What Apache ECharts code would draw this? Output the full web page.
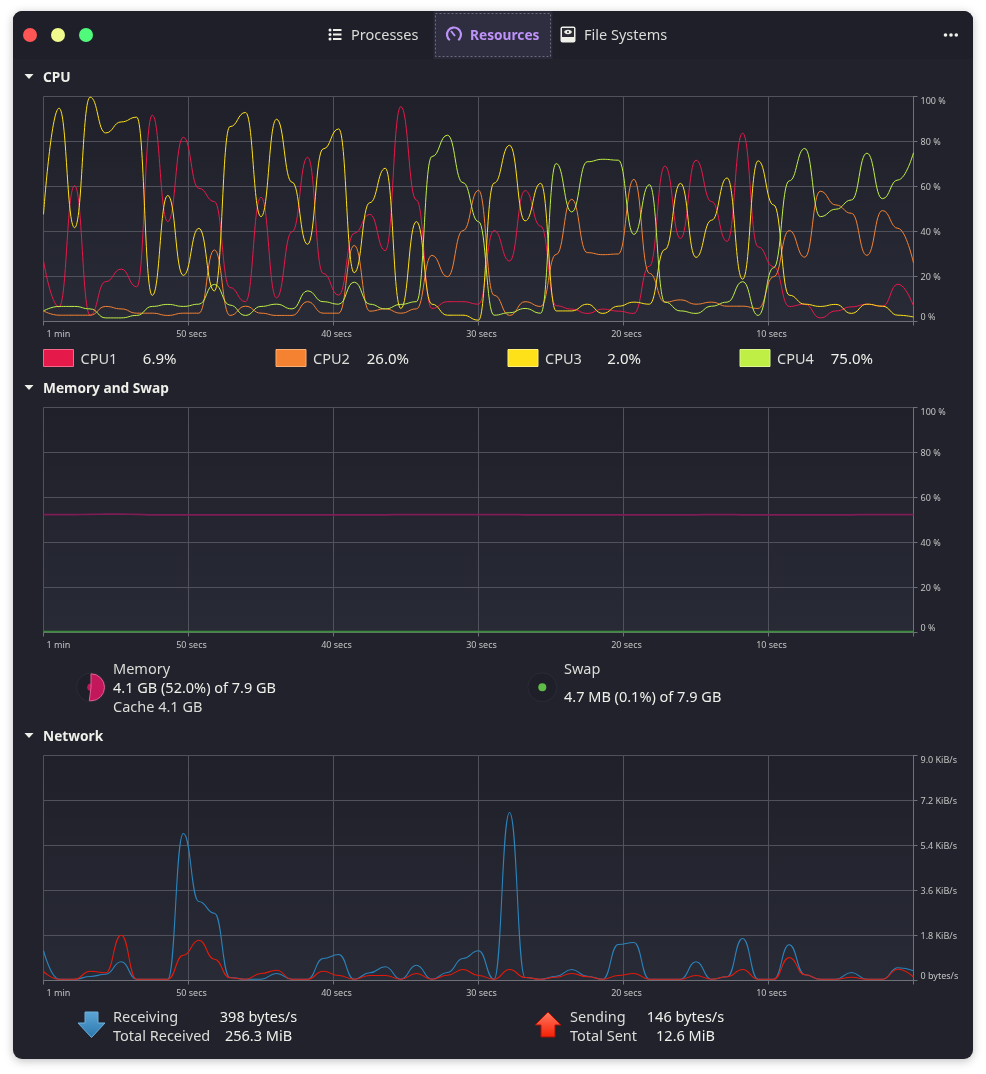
<!DOCTYPE html>
<html>
<head>
<meta charset="utf-8">
<title>System Monitor</title>
<script src="https://cdn.jsdelivr.net/npm/echarts@6/dist/echarts.min.js"></script>
<style>
  html, body { margin: 0; padding: 0; background: #fff; }
  #window { position: absolute; left: 13px; top: 11px; width: 960px; height: 1048px; background: #21222c;
    border-radius: 9px; box-shadow: 0 2px 10px rgba(0,0,0,0.25); overflow: hidden; }
  #header { height: 48px; background: #1e1f29; }
  #diagram { position: absolute; left: 0; top: 0; width: 986px; height: 1074px; }
</style>
</head>
<body>
<div id="window"><div id="header"></div></div>
<div id="diagram"></div>
<script>
var xTickLabels = ["1 min", "50 secs", "40 secs", "30 secs", "20 secs", "10 secs", ""];
var percentLabels = ["0 %", "20 %", "40 %", "60 %", "80 %", "100 %"];
var netLabels = ["0 bytes/s", "1.8 KiB/s", "3.6 KiB/s", "5.4 KiB/s", "7.2 KiB/s", "9.0 KiB/s"];

var cpuNames = ["CPU1", "CPU2", "CPU3", "CPU4"];
var cpuNow = ["6.9%", "26.0%", "2.0%", "75.0%"];
var cpuColors = ["#e6194b", "#f58231", "#ffe119", "#bfef45"];
var cpuBorders = ["#f4668a", "#fbae76", "#fff07a", "#dcf78e"];

var cpu1 = [27, 6.5, 60.4, 2.8, 17.7, 23.3, 15.4, 91.7, 44.4, 81.9, 59.2, 53.3, 15.1, 8.8, 55.2, 10.5, 39.9, 73, 21.4, 11.7,
  39.2, 47.6, 31.5, 95.5, 54, 5.8, 8.8, 8.8, 7.7, 40.4, 26.9, 58.2, 42.4, 7, 5.5, 3.6, 5.5, 4.6, 3.6, 24.6,
  69.1, 36.9, 71.7, 53.3, 35.6, 83.7, 33.2, 24.3, 6.7, 7.7, 1.6, 4.7, 6.5, 7.7, 6.8, 16.6, 6.9];
var cpu2 = [4.7, 2.8, 2.8, 2.8, 6.7, 5.6, 3.7, 3.7, 2.7, 3.7, 3.7, 31.8, 2.7, 6.8, 3.7, 2.7, 2.7, 8.8, 3.7, 3.7,
  33.8, 4.6, 5.6, 3.7, 5.6, 29.4, 19.9, 40.4, 58.3, 11.7, 2.7, 8.8, 6.7, 29.8, 54.3, 30.6, 29.7, 30, 63.2, 21.4,
  8.6, 9.6, 7.7, 8.6, 6.8, 6.8, 5.8, 19.9, 40.4, 28.6, 57.9, 51.8, 48.1, 29.4, 49.3, 41.4, 26];
var cpu3 = [47.6, 94.8, 41.7, 99.7, 83.8, 88.7, 90.8, 11.6, 56, 20.5, 41.4, 13.6, 86.6, 92.9, 46.6, 89.9, 61.9, 34.3, 76.7, 85.6,
  21.7, 52.8, 68.1, 5.8, 44.4, 7.7, 2.8, 2.8, 0.6, 61.5, 78.3, 44.7, 61.4, 4.7, 4.7, 7.7, 3.6, 6.8, 8.6, 7.7,
  32, 61.4, 28.5, 45, 63.8, 18.8, 71.4, 51.8, 11.7, 7.7, 6.7, 7.6, 3.6, 7.7, 6.8, 2.8, 2];
var cpu4 = [4.7, 6.7, 6.7, 5.6, 1.6, 1.6, 2.7, 6.7, 7.6, 6.7, 7.7, 16.5, 7.3, 2.7, 6.7, 7.7, 5.6, 13.6, 8.8, 7.7,
  17.5, 7.7, 5.6, 7.6, 8.8, 73.3, 82.8, 61.7, 44.4, 2.8, 3.9, 5.8, 3.7, 70.2, 48.7, 71, 72.1, 71.7, 38.7, 60.8,
  8.6, 4.7, 3.6, 6.8, 8.6, 17.7, 2.7, 23.9, 62.5, 76.9, 46.6, 49.9, 54, 74.8, 54.6, 62.9, 75];

var memory = [52.4, 52.4, 52.4, 52.5, 52.6, 52.6, 52.5, 52.3, 52.3, 52.3, 52.3, 52.3, 52.3, 52.3, 52.3, 52.3, 52.3, 52.3, 52.3, 52.3,
  52.3, 52.3, 52.3, 52.4, 52.4, 52.4, 52.4, 52.4, 52.4, 52.4, 52.4, 52.3, 52.3, 52.3, 52.3, 52.3, 52.3, 52.3, 52.3, 52.3,
  52.3, 52.3, 52.3, 52.4, 52.4, 52.3, 52.3, 52.3, 52.3, 52.3, 52.3, 52.3, 52.3, 52.4, 52.4, 52.4, 52.4];
var swap = [0.4, 0.4, 0.4, 0.4, 0.4, 0.4, 0.4, 0.4, 0.4, 0.4, 0.4, 0.4, 0.4, 0.4, 0.4, 0.4, 0.4, 0.4, 0.4, 0.4,
  0.4, 0.4, 0.4, 0.4, 0.4, 0.4, 0.4, 0.4, 0.4, 0.4, 0.4, 0.4, 0.4, 0.4, 0.4, 0.4, 0.4, 0.4, 0.4, 0.4,
  0.4, 0.4, 0.4, 0.4, 0.4, 0.4, 0.4, 0.4, 0.4, 0.4, 0.4, 0.4, 0.4, 0.4, 0.4, 0.4, 0.4];

var receiving = [1.19, 0.05, 0.05, 0.16, 0.25, 0.75, 0.05, 0.05, 0.05, 5.88, 3.16, 2.69, 0.12, 0.05, 0.05, 0.28, 0.05, 0.05, 0.88, 1.04,
  0.05, 0.31, 0.55, 0.05, 0.61, 0.05, 0.32, 0.88, 1.19, 0.05, 6.72, 0.12, 0.05, 0.17, 0.44, 0.17, 0.05, 1.44, 1.52, 0.05,
  0.05, 0.05, 0.75, 0.05, 0.15, 1.68, 0.05, 0.05, 1.43, 0.23, 0.05, 0.05, 0.32, 0.05, 0.05, 0.51, 0.39];
var sending = [0.36, 0.05, 0.05, 0.37, 0.31, 1.81, 0.05, 0.05, 0.05, 1.01, 1.61, 0.85, 0.11, 0.05, 0.28, 0.41, 0.05, 0.05, 0.37, 0.2,
  0.05, 0.2, 0.2, 0.05, 0.28, 0.05, 0.21, 0.44, 0.2, 0.05, 0.44, 0.12, 0.05, 0.13, 0.28, 0.15, 0.05, 0.2, 0.28, 0.05,
  0.05, 0.05, 0.2, 0.05, 0.15, 0.44, 0.05, 0.05, 0.92, 0.23, 0.05, 0.05, 0.13, 0.05, 0.05, 0.45, 0.14];

var font = '"Noto Sans", sans-serif';
var textColor = "#f0f0ea";
var gridColor = "#50515b";
var axisColor = "#6f7078";

// samples are 60/56 of a second apart
function points(values) {
  return values.map(function (v, i) { return [i * 60 / 56, v]; });
}

function gridOf(top) {
  return {
    show: true, left: 43.5, top: top, width: 870, height: 225, borderWidth: 0,
    backgroundColor: new echarts.graphic.LinearGradient(0, 0, 0, 1, [
      { offset: 0, color: "#1f2029" }, { offset: 1, color: "#282a36" }
    ])
  };
}

function xAxisOf(index) {
  return {
    type: "value", gridIndex: index, min: 0, max: 60, interval: 10,
    axisLine: { show: true, onZero: false, lineStyle: { color: axisColor } },
    axisTick: { show: true, length: 4, lineStyle: { color: axisColor } },
    splitLine: { show: true, lineStyle: { color: gridColor } },
    axisLabel: {
      margin: 8, color: "#c4c4c4",
      formatter: function (v) {
        var t = xTickLabels[Math.round(v / 10)];
        return t === "" ? "" : (v === 0 ? "{m|" + t + "}" : "{s|" + t + "}");
      },
      alignMinLabel: "left",
      rich: {
        m: { fontFamily: font, fontSize: 9, color: "#c4c4c4", padding: [0, 0, 0, 3] },
        s: { fontFamily: font, fontSize: 9, color: "#c4c4c4", padding: [0, 0, 0, 6] }
      }
    }
  };
}

function yAxisOf(index, max, interval, labels) {
  return {
    type: "value", gridIndex: index, position: "right", min: 0, max: max, interval: interval,
    axisLine: { show: true, onZero: false, lineStyle: { color: axisColor } },
    axisTick: { show: true, length: 4, lineStyle: { color: axisColor } },
    splitLine: { show: true, lineStyle: { color: gridColor } },
    axisLabel: {
      margin: 7, color: "#c4c4c4",
      verticalAlignMinLabel: "bottom", verticalAlignMaxLabel: "top",
      formatter: function (v) {
        var i = Math.round(v / interval);
        return (i === 0 || i === 5 ? "{e|" : "{c|") + labels[i] + "}";
      },
      rich: {
        e: { fontFamily: font, fontSize: 9, color: "#c4c4c4" },
        c: { fontFamily: font, fontSize: 9, color: "#c4c4c4", padding: [2, 0, 0, 0] }
      }
    }
  };
}

function lineOf(name, values, color, index, width) {
  return {
    name: name, type: "line", xAxisIndex: index, yAxisIndex: index, data: points(values),
    showSymbol: false, silent: true, animation: false,
    smooth: 0.5, smoothMonotone: "x",
    itemStyle: { color: color }, lineStyle: { color: color, width: width }
  };
}

function legendOf(i, left) {
  return {
    show: true, left: left, top: 349, orient: "horizontal", padding: 0, selectedMode: false,
    data: [{ name: cpuNames[i], icon: "rect", itemStyle: { color: cpuColors[i], borderColor: cpuBorders[i], borderWidth: 1 } }],
    itemWidth: 30, itemHeight: 17,
    formatter: function (name) { return "{n|" + name + "}{v|" + cpuNow[i] + "}"; },
    textStyle: {
      rich: {
        n: { fontFamily: font, fontSize: 14.5, color: "#dcdcd8", width: 48, padding: [3, 0, 0, 2] },
        v: { fontFamily: font, fontSize: 15, color: textColor, width: 48, align: "right", padding: [3, 0, 0, 0] }
      }
    }
  };
}

function label(x, y, text, opts) {
  opts = opts || {};
  return {
    type: "text", silent: true, z: 5,
    style: {
      x: x, y: y + 1.3, text: text, fill: opts.fill || textColor,
      font: (opts.weight || "normal") + " " + (opts.size || 14.5) + "px " + font,
      textAlign: opts.align || "left", textVerticalAlign: "middle"
    }
  };
}

function section(y, text) {
  return [
    { type: "polygon", silent: true, z: 5, shape: { points: [[24.5, y - 2.5], [33.5, y - 2.5], [29, y + 2.5]] }, style: { fill: "#f0f0ea" } },
    label(43, y, text, { weight: "bold", size: 13.7 })
  ];
}

function dot(cx, cy, r, fill) {
  return { type: "circle", silent: true, z: 5, shape: { cx: cx, cy: cy, r: r }, style: { fill: fill } };
}

function ring(cx, cy, r) {
  return { type: "circle", silent: true, z: 5, shape: { cx: cx, cy: cy, r: r }, style: { fill: "#1e1f28", stroke: "#2b2c37", lineWidth: 1 } };
}

var chrome = [
  dot(30, 35, 7, "#ff5555"), dot(58, 35, 7, "#f1fa8c"), dot(86, 35, 7, "#50fa7b"),
  // tab switcher
  { type: "rect", silent: true, z: 4, shape: { x: 433.5, y: 11, width: 119, height: 48 }, style: { fill: "#2b2a3a" } },
  { type: "rect", silent: true, z: 4, shape: { x: 435.5, y: 13.5, width: 115, height: 43 }, style: { fill: "#2f2d40", stroke: "#6d6b7c", lineWidth: 1, lineDash: [2, 2] } },
  label(351, 34.5, "Processes", { fill: "#dcdcd8" }),
  label(470, 34.5, "Resources", { fill: "#bd93f9", weight: "bold", size: 13.7 }),
  label(584, 34.5, "File Systems", { fill: "#dcdcd8" }),
  // list icon
  dot(330, 30, 1.5, "#f0f0ea"), dot(330, 34.5, 1.5, "#f0f0ea"), dot(330, 39, 1.5, "#f0f0ea"),
  { type: "polyline", silent: true, z: 5, shape: { points: [[333, 30], [341.5, 30]] }, style: { stroke: "#f0f0ea", lineWidth: 2, fill: null } },
  { type: "polyline", silent: true, z: 5, shape: { points: [[333, 34.5], [341.5, 34.5]] }, style: { stroke: "#f0f0ea", lineWidth: 2, fill: null } },
  { type: "polyline", silent: true, z: 5, shape: { points: [[333, 39], [341.5, 39]] }, style: { stroke: "#f0f0ea", lineWidth: 2, fill: null } },
  // gauge icon
  { type: "arc", silent: true, z: 5, shape: { cx: 454, cy: 34.5, r: 7, startAngle: 2.2, endAngle: 7.2, clockwise: true }, style: { stroke: "#bd93f9", lineWidth: 2.2, fill: null } },
  { type: "polyline", silent: true, z: 5, shape: { points: [[451, 31], [455, 36]] }, style: { stroke: "#bd93f9", lineWidth: 2, fill: null } },
  // disk icon
  { type: "rect", silent: true, z: 5, shape: { x: 560.5, y: 26.5, width: 15, height: 16, r: 2 }, style: { fill: "#f0f0ea" } },
  { type: "rect", silent: true, z: 5, shape: { x: 562, y: 28, width: 12, height: 9 }, style: { fill: "#2a2b35" } },
  { type: "ellipse", silent: true, z: 5, shape: { cx: 568, cy: 32, rx: 3.8, ry: 2.2 }, style: { fill: "#f0f0ea" } },
  dot(568, 32, 1, "#2a2b35"),
  // menu dots
  dot(945.5, 35, 1.8, "#f0f0ea"), dot(951, 35, 1.8, "#f0f0ea"), dot(956.3, 35, 1.8, "#f0f0ea")
];

var memoryLabels = [
  ring(91, 687.3, 14.5),
  dot(91, 687.3, 3.8, "#c2185b"),
  label(113, 669, "Memory", { fill: "#dcdcd8" }),
  label(113, 688, "4.1 GB (52.0%) of 7.9 GB"),
  label(113, 707, "Cache 4.1 GB", { fill: "#dcdcd8" }),
  ring(542.3, 687.3, 14.5),
  dot(542.3, 687.3, 4, "#5fbc46"),
  label(564, 669, "Swap", { fill: "#dcdcd8" }),
  label(564, 697, "4.7 MB (0.1%) of 7.9 GB")
];

var netIcons = [
  {
    type: "polygon", silent: true, z: 5,
    shape: { points: [[85, 1012], [98, 1012], [98, 1023], [105, 1023], [91.5, 1037.5], [78, 1023], [85, 1023]] },
    style: {
      stroke: "#6fb0da", lineWidth: 1,
      fill: new echarts.graphic.LinearGradient(0, 0, 0, 1, [{ offset: 0, color: "#5da6d6" }, { offset: 1, color: "#2a76ad" }])
    }
  },
  {
    type: "polygon", silent: true, z: 5,
    shape: { points: [[548, 1012], [561, 1025], [555, 1025], [555, 1037], [541, 1037], [541, 1025], [535, 1025]] },
    style: {
      stroke: "#a81208", lineWidth: 1,
      fill: new echarts.graphic.LinearGradient(0, 0, 0, 1, [{ offset: 0, color: "#ff7a60" }, { offset: 1, color: "#f51f04" }])
    }
  },
  label(113, 1017, "Receiving", { fill: "#dcdcd8" }),
  label(258.5, 1017, "398 bytes/s", { align: "center" }),
  label(113, 1036, "Total Received", { fill: "#dcdcd8" }),
  label(258.5, 1036, "256.3 MiB", { align: "center" }),
  label(570, 1017, "Sending", { fill: "#dcdcd8" }),
  label(685.5, 1017, "146 bytes/s", { align: "center" }),
  label(570, 1036, "Total Sent", { fill: "#dcdcd8" }),
  label(685.5, 1036, "12.6 MiB", { align: "center" })
];

var myChart = echarts.init(document.getElementById("diagram"), null, { renderer: "canvas" });
var option = {
  backgroundColor: "transparent",
  animation: false,
  textStyle: { fontFamily: font },
  grid: [gridOf(96.5), gridOf(407.5), gridOf(755.5)],
  xAxis: [xAxisOf(0), xAxisOf(1), xAxisOf(2)],
  yAxis: [
    yAxisOf(0, 100, 20, percentLabels),
    yAxisOf(1, 100, 20, percentLabels),
    yAxisOf(2, 9, 1.8, netLabels)
  ],
  legend: [legendOf(0, 43), legendOf(1, 275.5), legendOf(2, 507.5), legendOf(3, 739.5)],
  series: [
    lineOf("CPU1", cpu1, cpuColors[0], 0, 1),
    lineOf("CPU2", cpu2, cpuColors[1], 0, 1),
    lineOf("CPU3", cpu3, cpuColors[2], 0, 1),
    lineOf("CPU4", cpu4, cpuColors[3], 0, 1),
    lineOf("Memory", memory, "#7d1c55", 1, 1.7),
    lineOf("Swap", swap, "#3c8a3c", 1, 1.7),
    lineOf("Receiving", receiving, "#2b83ba", 2, 1.1),
    lineOf("Sending", sending, "#e31a0b", 2, 1.1),
    {
      type: "pie", silent: true, animation: false, z: 6,
      center: [91, 687.3], radius: [0, 13.5], startAngle: 90, label: { show: false }, labelLine: { show: false },
      data: [
        { value: 52.0, itemStyle: { color: "#c2185b", borderColor: "#e0608e", borderWidth: 1 } },
        { value: 48.0, itemStyle: { color: "transparent" } }
      ]
    }
  ],
  graphic: { elements: [].concat(chrome, section(76.5, "CPU"), section(387.5, "Memory and Swap"), section(735.5, "Network"), memoryLabels, netIcons) }
};
myChart.setOption(option);
</script>
</body>
</html>
